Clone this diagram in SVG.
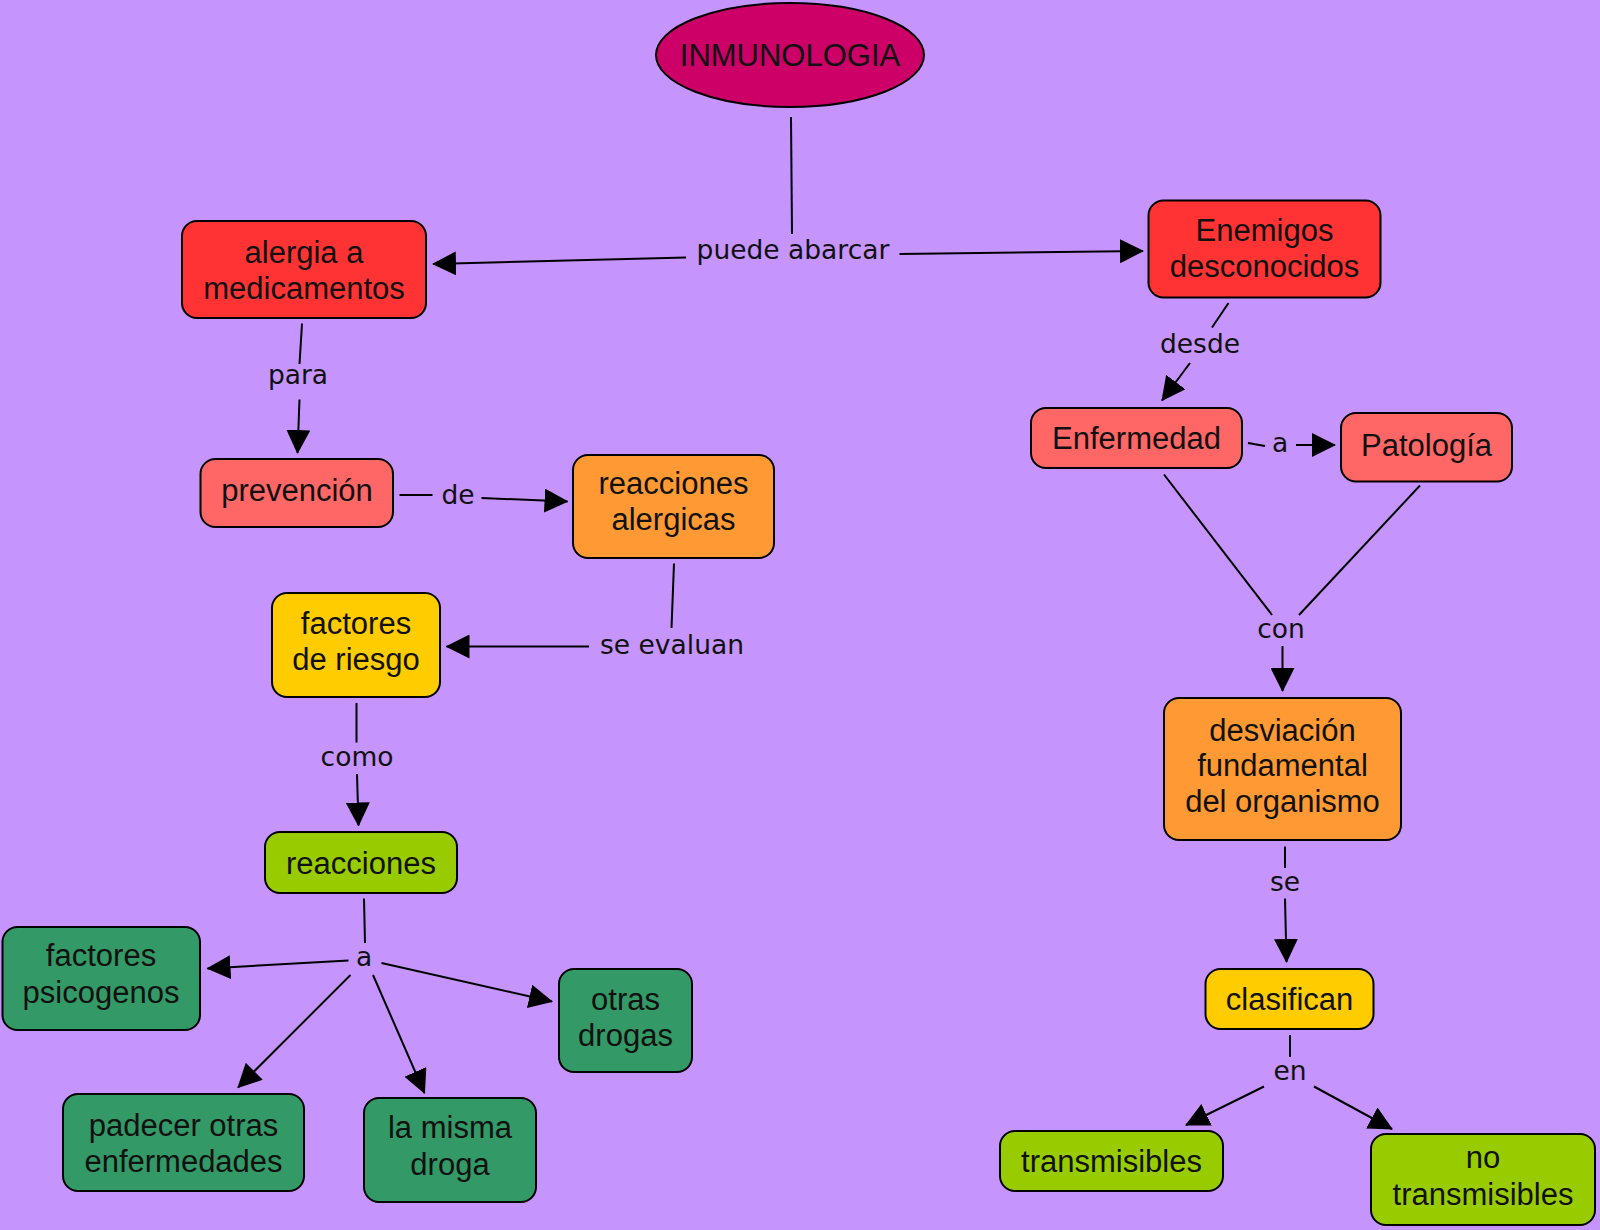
<svg xmlns="http://www.w3.org/2000/svg" width="1600" height="1230" viewBox="0 0 1600 1230">
<defs>
<marker id="arr" viewBox="0 0 24 24" refX="23" refY="12" markerWidth="24" markerHeight="24" markerUnits="userSpaceOnUse" orient="auto">
<path d="M0,0 L24,12 L0,24 z" fill="#000"/>
</marker>
</defs>
<style>
.bg{fill:#C594FC}
.n{stroke:#000;stroke-width:2}
.red{fill:#FF3333}
.sal{fill:#FF6666}
.org{fill:#FF9933}
.yel{fill:#FFCC00}
.lim{fill:#99CC00}
.grn{fill:#339966}
.t{font-family:"Liberation Sans",Arial,sans-serif;font-size:31px;fill:#111;text-anchor:middle}
.l{font-family:"DejaVu Sans",Verdana,sans-serif;font-size:26.5px;fill:#111;text-anchor:middle}
.c line{stroke:#000;stroke-width:2;fill:none}
.c line.a{marker-end:url(#arr)}
</style>
<rect class="bg" x="0" y="0" width="1600" height="1230"/>

<g id="connectors" class="c">
<line x1="791" y1="117" x2="792" y2="234"/>
<line class="a" x1="686" y1="257.5" x2="433" y2="264"/>
<line class="a" x1="899.5" y1="254" x2="1143" y2="251"/>
<line x1="302" y1="323.5" x2="299.5" y2="364"/>
<line class="a" x1="299.5" y1="399.5" x2="297.5" y2="453"/>
<line x1="399.5" y1="495" x2="432.5" y2="495"/>
<line class="a" x1="481.5" y1="498" x2="567.5" y2="501.5"/>
<line x1="674" y1="563.5" x2="671.5" y2="628"/>
<line class="a" x1="589" y1="646.5" x2="446.5" y2="646.5"/>
<line x1="356.5" y1="703" x2="356.5" y2="742.5"/>
<line class="a" x1="357" y1="774" x2="358.5" y2="825.5"/>
<line x1="364" y1="898.5" x2="365" y2="943"/>
<line class="a" x1="348.5" y1="960.5" x2="207.5" y2="968.5"/>
<line class="a" x1="381.5" y1="963" x2="552" y2="1001.5"/>
<line class="a" x1="350.5" y1="975" x2="238" y2="1087.5"/>
<line class="a" x1="373" y1="975" x2="424.5" y2="1093"/>
<line x1="1228.5" y1="303" x2="1212" y2="327.5"/>
<line class="a" x1="1190" y1="363" x2="1162" y2="400.5"/>
<line x1="1248" y1="443" x2="1265" y2="446"/>
<line class="a" x1="1296" y1="445" x2="1335" y2="445"/>
<line x1="1164" y1="474.5" x2="1272" y2="615"/>
<line x1="1420" y1="485.5" x2="1299" y2="615"/>
<line class="a" x1="1282.5" y1="646" x2="1282.5" y2="691"/>
<line x1="1285" y1="846.5" x2="1285" y2="868"/>
<line class="a" x1="1285" y1="898.5" x2="1286.5" y2="962"/>
<line x1="1290" y1="1035" x2="1290" y2="1057"/>
<line class="a" x1="1264" y1="1086.5" x2="1186" y2="1125"/>
<line class="a" x1="1314" y1="1086.5" x2="1392" y2="1129"/>
</g>

<g id="link-labels">
<text class="l" x="793" y="259">puede abarcar</text>
<text class="l" x="298" y="383.5">para</text>
<text class="l" x="458" y="504">de</text>
<text class="l" x="672" y="654">se evaluan</text>
<text class="l" x="357" y="766">como</text>
<text class="l" x="364" y="966">a</text>
<text class="l" x="1200" y="353">desde</text>
<text class="l" x="1280" y="452">a</text>
<text class="l" x="1281" y="638">con</text>
<text class="l" x="1285" y="891">se</text>
<text class="l" x="1290" y="1080">en</text>
</g>

<g id="inmunologia">
<ellipse class="n" cx="790" cy="55" rx="134" ry="52" fill="#CC0066"/>
<text class="t" x="790" y="66">INMUNOLOGIA</text>
</g>
<g id="alergia">
<rect class="n red" x="182" y="221" width="244" height="97" rx="15"/>
<text class="t" x="304" y="263">alergia a</text>
<text class="t" x="304" y="298.5">medicamentos</text>
</g>
<g id="prevencion">
<rect class="n sal" x="200.5" y="459" width="192.5" height="68" rx="15"/>
<text class="t" x="297" y="501">prevención</text>
</g>
<g id="reacciones-alergicas">
<rect class="n org" x="573" y="455" width="201" height="103" rx="15"/>
<text class="t" x="673.5" y="494">reacciones</text>
<text class="t" x="673.5" y="530">alergicas</text>
</g>
<g id="factores-riesgo">
<rect class="n yel" x="272" y="593" width="168" height="104" rx="15"/>
<text class="t" x="356" y="634">factores</text>
<text class="t" x="356" y="670">de riesgo</text>
</g>
<g id="reacciones">
<rect class="n lim" x="265" y="832" width="192" height="61" rx="15"/>
<text class="t" x="361" y="874">reacciones</text>
</g>
<g id="factores-psicogenos">
<rect class="n grn" x="2.5" y="927" width="197.5" height="103" rx="15"/>
<text class="t" x="101" y="966">factores</text>
<text class="t" x="101" y="1002.5">psicogenos</text>
</g>
<g id="otras-drogas">
<rect class="n grn" x="559" y="969" width="133" height="103" rx="15"/>
<text class="t" x="625.5" y="1010">otras</text>
<text class="t" x="625.5" y="1046">drogas</text>
</g>
<g id="padecer">
<rect class="n grn" x="63" y="1094" width="241" height="97" rx="15"/>
<text class="t" x="183.5" y="1136">padecer otras</text>
<text class="t" x="183.5" y="1171.5">enfermedades</text>
</g>
<g id="misma-droga">
<rect class="n grn" x="364" y="1098" width="172" height="104" rx="15"/>
<text class="t" x="450" y="1138">la misma</text>
<text class="t" x="450" y="1175">droga</text>
</g>
<g id="enemigos">
<rect class="n red" x="1148.5" y="200.5" width="232" height="97" rx="15"/>
<text class="t" x="1264.5" y="241">Enemigos</text>
<text class="t" x="1264.5" y="277">desconocidos</text>
</g>
<g id="enfermedad">
<rect class="n sal" x="1031" y="408" width="211" height="60" rx="15"/>
<text class="t" x="1136.5" y="449">Enfermedad</text>
</g>
<g id="patologia">
<rect class="n sal" x="1341" y="413" width="171" height="68.5" rx="15"/>
<text class="t" x="1426.5" y="455.5">Patología</text>
</g>
<g id="desviacion">
<rect class="n org" x="1164" y="698" width="237" height="142" rx="15"/>
<text class="t" x="1282.5" y="740.5">desviación</text>
<text class="t" x="1282.5" y="776">fundamental</text>
<text class="t" x="1282.5" y="811.5">del organismo</text>
</g>
<g id="clasifican">
<rect class="n yel" x="1205.5" y="969" width="168" height="60" rx="15"/>
<text class="t" x="1289.5" y="1010">clasifican</text>
</g>
<g id="transmisibles">
<rect class="n lim" x="1000" y="1131" width="223" height="60" rx="15"/>
<text class="t" x="1111.5" y="1172">transmisibles</text>
</g>
<g id="no-transmisibles">
<rect class="n lim" x="1371" y="1134" width="224" height="91" rx="15"/>
<text class="t" x="1483" y="1168">no</text>
<text class="t" x="1483" y="1205">transmisibles</text>
</g>
</svg>
